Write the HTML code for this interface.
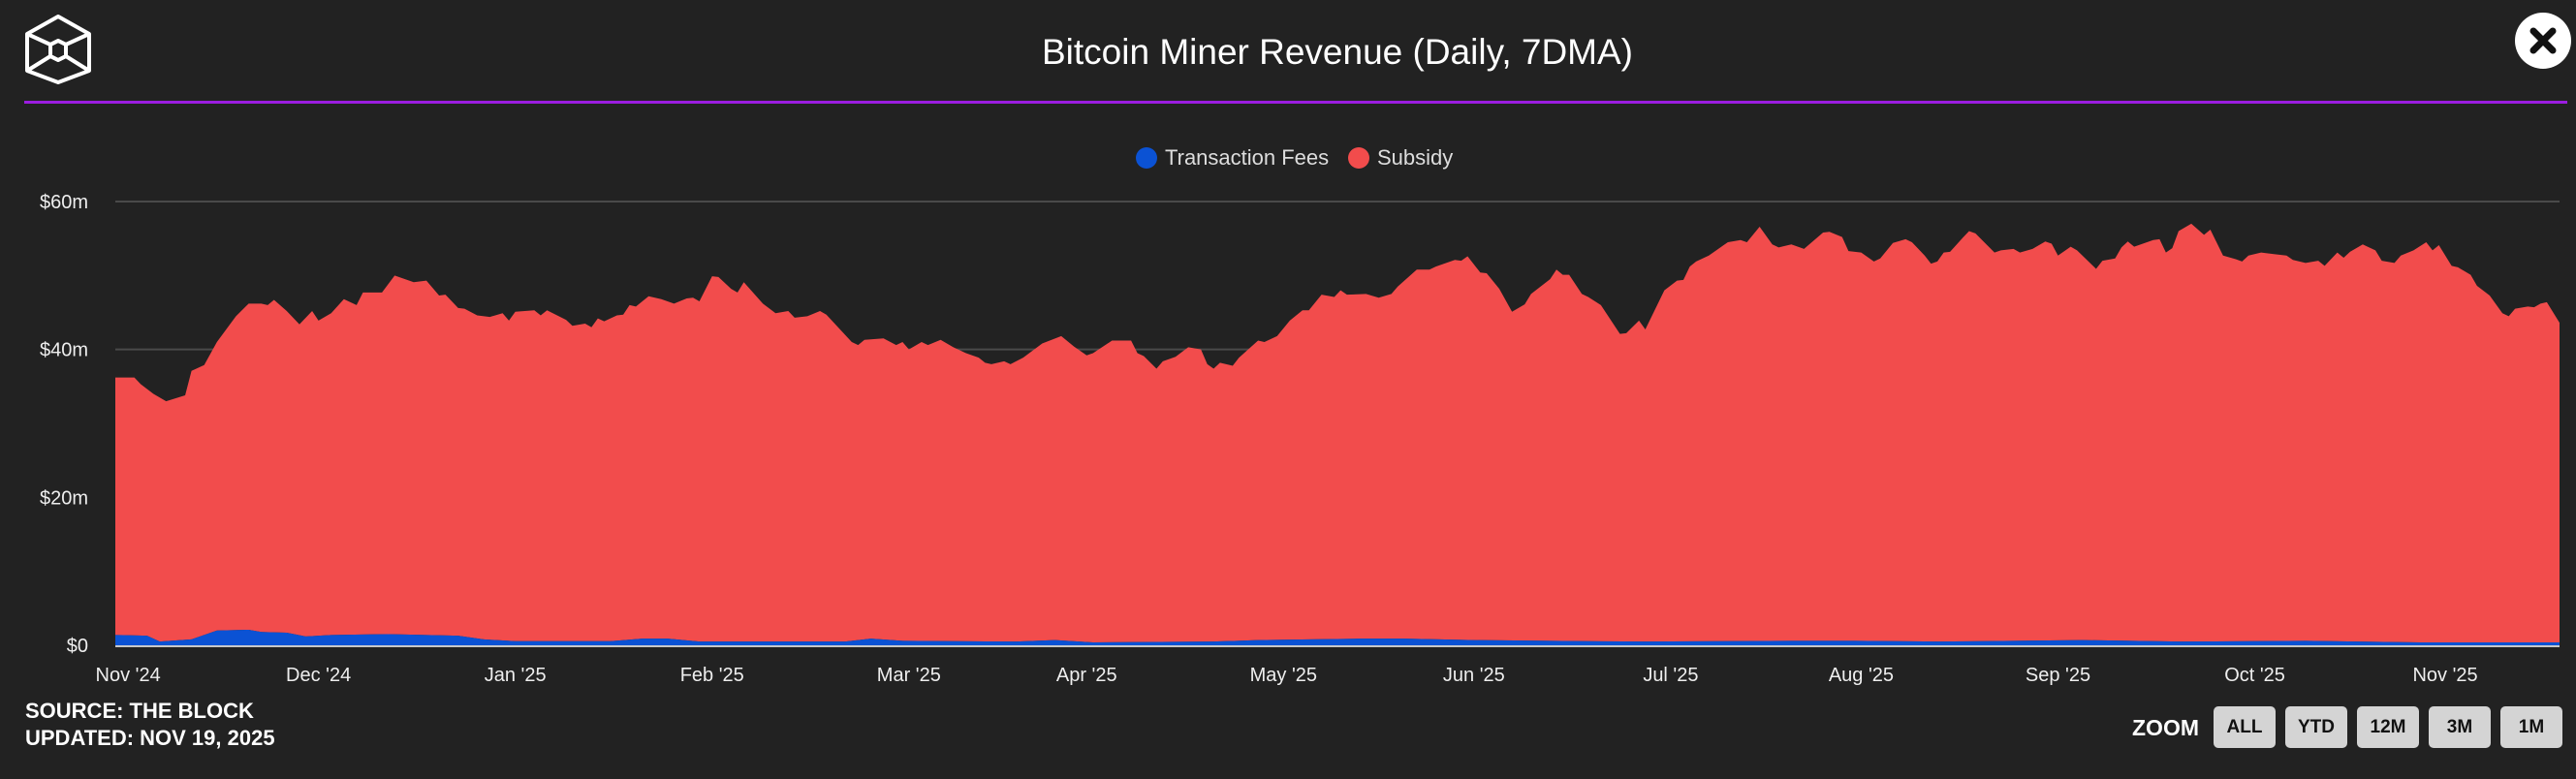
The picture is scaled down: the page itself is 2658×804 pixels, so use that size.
<!DOCTYPE html>
<html><head><meta charset="utf-8">
<style>
html,body{margin:0;padding:0;background:#222222;}
body{width:2658px;height:804px;position:relative;overflow:hidden;font-family:"Liberation Sans",sans-serif;}
.abs{position:absolute;}
.btn{position:absolute;top:729px;width:64px;height:43px;background:#d4d4d4;border-radius:5px;color:#111;font-weight:bold;font-size:19px;line-height:43px;text-align:center;}
</style></head>
<body>
<svg class="abs" style="left:0;top:0" width="110" height="100">
  <g fill="none" stroke="#fff" stroke-width="4" stroke-linejoin="round">
    <polygon points="60,17 92,35 92,73 60,85 28,73 28,35"/>
    <polyline points="28,35 52,46 60,42 68,46 92,35"/>
    <polyline points="28,73 52,58 60,62 68,58 92,73"/>
    <polygon points="52,46 60,42 68,46 68,58 60,62 52,58"/>
  </g>
</svg>
<div class="abs" style="left:880px;width:1000px;top:33px;text-align:center;color:#fff;font-size:37px;">Bitcoin Miner Revenue (Daily, 7DMA)</div>
<div class="abs" style="left:2595px;top:13px;width:58px;height:58px;border-radius:50%;background:#fff;">
  <svg width="58" height="58"><path d="M19 19 L39 39 M39 19 L19 39" stroke="#111" stroke-width="7" stroke-linecap="round"/></svg>
</div>
<div class="abs" style="left:25px;top:104px;width:2624px;height:3px;background:#9b1de0;"></div>

<div class="abs" style="left:1172px;top:151px;height:24px;color:#ddd;font-size:22px;line-height:24px;">
  <span style="display:inline-block;width:22px;height:22px;border-radius:50%;background:#0b52d4;vertical-align:-4px;margin-right:8px;"></span>Transaction Fees</div>
<div class="abs" style="left:1391px;top:151px;height:24px;color:#ddd;font-size:22px;line-height:24px;">
  <span style="display:inline-block;width:22px;height:22px;border-radius:50%;background:#f24c4c;vertical-align:-4px;margin-right:8px;"></span>Subsidy</div>

<svg id="chart" class="abs" style="left:0;top:0" width="2658" height="804"></svg>

<div class="abs" style="left:26px;top:720px;color:#fff;font-weight:bold;font-size:22px;line-height:28px;">SOURCE: THE BLOCK<br>UPDATED: NOV 19, 2025</div>
<div class="abs" style="left:2200px;top:738px;color:#fff;font-weight:bold;font-size:23px;">ZOOM</div>
<div class="btn" style="left:2284px">ALL</div>
<div class="btn" style="left:2358px">YTD</div>
<div class="btn" style="left:2432px">12M</div>
<div class="btn" style="left:2506px">3M</div>
<div class="btn" style="left:2580px">1M</div>

<script>
// days since Oct 30 2024
const totalDays = [0,3,4,6,8,11,12,14,16,19,21,23,24,25,27,28,29,31,32,34,36,38,39,42,44,47,49,51,52,54,55,57,59,61,62,63,66,67,68,71,72,74,75,76,77,79,80,81,82,84,86,88,90,91,92,94,95,97,98,99,102,104,106,107,109,111,112,116,117,118,121,123,124,125,127,128,130,132,134,136,137,138,140,141,143,146,149,151,153,154,157,160,161,162,164,165,167,169,171,172,173,174,176,177,180,181,183,185,187,188,190,192,193,194,197,199,201,202,205,207,208,211,212,213,215,216,218,220,222,223,226,227,228,229,231,232,234,237,238,240,241,244,246,247,248,249,251,254,256,257,259,261,262,264,266,269,270,272,273,275,277,278,280,282,283,285,286,287,288,289,291,292,293,296,297,299,300,302,304,305,306,308,309,312,313,315,316,317,318,321,322,323,324,325,327,329,330,332,334,335,336,338,340,342,343,345,347,348,350,351,352,354,356,357,359,360,362,364,365,366,368,369,371,372,374,376,377,378,380,381,382,383,385];
const totalRevenue = [36.2,36.2,35.3,34.0,33.0,33.8,37.1,37.9,41.0,44.5,46.2,46.2,46.0,46.7,45.2,44.3,43.4,45.2,43.9,44.9,46.8,46.0,47.7,47.7,50.0,49.1,49.3,47.3,47.4,45.6,45.5,44.6,44.4,44.9,43.9,45.1,45.3,44.6,45.3,44.0,43.2,43.5,43.0,44.2,43.8,44.6,44.7,46.0,45.8,47.2,46.8,46.2,46.9,47.0,46.5,49.9,49.8,48.2,47.7,49.1,46.2,44.9,45.2,44.3,44.5,45.2,44.7,41.0,40.6,41.3,41.5,40.6,41.0,40.0,41.0,40.6,41.3,40.3,39.5,38.9,38.2,38.0,38.4,38.0,38.9,40.8,41.8,40.4,39.2,39.5,41.2,41.2,39.5,39.1,37.4,38.4,39.0,40.3,40.0,38.0,37.4,38.2,37.8,38.9,41.2,41.0,41.8,43.9,45.3,45.3,47.4,47.1,48.0,47.4,47.5,47.0,47.5,48.5,50.8,50.8,51.2,52.1,52.0,52.6,50.4,50.3,48.2,45.1,46.1,47.5,49.5,50.8,50.1,50.1,47.5,47.1,46.0,42.1,42.2,43.9,42.7,48.0,49.3,49.4,51.2,51.9,52.7,54.5,54.8,54.5,56.6,54.2,53.8,54.2,53.6,55.8,55.9,55.2,53.3,53.1,51.9,52.3,54.4,54.9,54.5,52.7,51.6,51.9,53.1,53.2,55.1,56.0,55.7,53.1,53.4,53.6,53.1,53.6,54.6,54.3,52.7,53.9,53.4,50.9,52.0,52.3,53.8,54.6,53.9,54.8,54.9,53.1,53.7,56.0,57.0,55.5,56.2,52.7,52.2,51.9,52.7,53.1,52.9,52.7,52.1,51.7,52.0,51.3,53.1,52.4,53.2,54.2,53.4,52.0,51.7,52.7,53.4,54.5,53.4,54.1,51.3,51.1,50.1,48.6,47.3,44.9,44.5,45.5,45.8,45.7,46.2,46.4,43.6];
const feeDays = [0,5,7,12,16,21,23,27,30,34,43,49,54,58,63,78,83,87,92,104,115,119,124,142,148,154,173,180,196,203,214,226,241,264,274,287,310,325,345,363,385];
const feeValues = [1.4,1.3,0.5,0.8,2.0,2.1,1.8,1.7,1.2,1.4,1.5,1.4,1.3,0.8,0.55,0.55,0.9,0.9,0.5,0.5,0.5,0.9,0.6,0.5,0.7,0.4,0.5,0.7,0.9,0.9,0.7,0.6,0.5,0.6,0.6,0.5,0.7,0.5,0.6,0.4,0.4];
const yTicks = [0,20,40,60];
const yTickLabels = ['$0','$20m','$40m','$60m'];
const monthDays = [2,32,63,94,125,153,184,214,245,275,306,337,367];
const monthLabels = ["Nov '24","Dec '24","Jan '25","Feb '25","Mar '25","Apr '25","May '25","Jun '25","Jul '25","Aug '25","Sep '25","Oct '25","Nov '25"];

const X0=119, X1=2641, Y0=666, Y60=208;
const DMAX=385;
const xs = d => X0 + (X1-X0)*d/DMAX;
const ys = v => Y0 - (Y0-Y60)*v/60;
const NS='http://www.w3.org/2000/svg';
const svg=document.getElementById('chart');
function mk(tag,attrs){const e=document.createElementNS(NS,tag);for(const k in attrs)e.setAttribute(k,attrs[k]);svg.appendChild(e);return e;}

yTicks.forEach((t,i)=>{
  if(t>0){
    const g=mk('line',{x1:X0,x2:X1,y1:ys(t),y2:ys(t),stroke:'#4a4a4a','stroke-width':2});
    
    
  }
  const tx=mk('text',{x:91,y:ys(t)+7,'text-anchor':'end',fill:'#eee','font-size':20,'font-family':'Liberation Sans, sans-serif'});
  tx.textContent=yTickLabels[i];
  
  
});

const nTotal=Math.min(totalDays.length,totalRevenue.length);
const topPts=[];
for(let i=0;i<nTotal;i++) topPts.push(xs(totalDays[i])+','+ys(totalRevenue[i]));
const botPts=[];
for(let i=feeDays.length-1;i>=0;i--) botPts.push(xs(feeDays[i])+','+ys(feeValues[i]));
const red=mk('polygon',{points:topPts.concat(botPts).join(' '),fill:'#f24c4c'});


const fp=feeDays.map((d,i)=>xs(d)+','+ys(feeValues[i]));
fp.push(xs(feeDays[feeDays.length-1])+','+ys(0));
fp.push(xs(feeDays[0])+','+ys(0));
const blue=mk('polygon',{points:fp.join(' '),fill:'#0b52d4'});


const ax=mk('line',{x1:X0,x2:X1,y1:Y0+1,y2:Y0+1,stroke:'#c8c8c8','stroke-width':2});



monthDays.forEach((d,i)=>{
  const t=mk('text',{x:xs(d),y:703,'text-anchor':'middle',fill:'#eee','font-size':20,'font-family':'Liberation Sans, sans-serif'});
  t.textContent=monthLabels[i];
  
  
});
</script>
</body></html>
